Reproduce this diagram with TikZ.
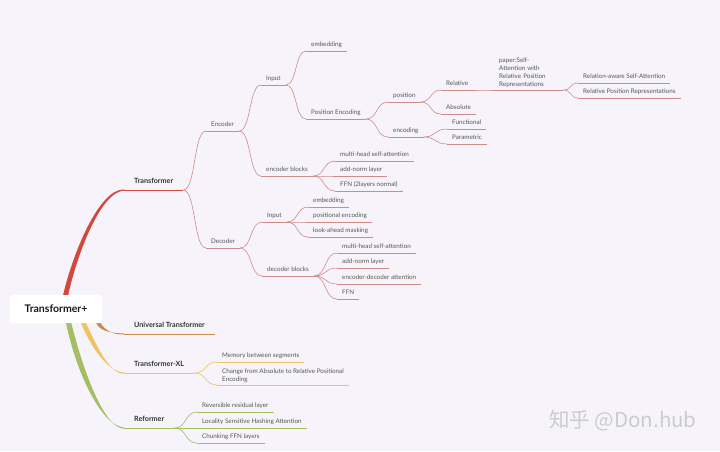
\documentclass[tikz,border=0pt]{standalone}
\usepackage{fontspec}
\setmainfont{Lato}
\newfontfamily\cjk{Noto Sans CJK SC}
\usetikzlibrary{calc,backgrounds}
\definecolor{bg}{HTML}{F6F4FA}
\definecolor{cred}{HTML}{D4473C}
\definecolor{crose}{HTML}{CF8A8A}
\definecolor{cbrown}{HTML}{C98A4E}
\definecolor{cyel}{HTML}{EDC462}
\definecolor{cgreen}{HTML}{A5BE63}
\definecolor{ctext}{HTML}{555555}
\definecolor{cbold}{HTML}{333333}
\tikzset{
  lbl/.style={anchor=south west, inner xsep=5pt, inner ysep=2.4pt, text depth=1.6pt,
    font=\fontsize{6.3}{8}\selectfont, text=ctext},
  mlbl/.style={lbl, text depth={}, align=left},
  mainlbl/.style={anchor=south west, inner xsep=10pt, inner ysep=4.6pt, text depth=1.8pt,
    font=\fontsize{7.2}{9}\selectfont\bfseries, text=cbold},
  rootbox/.style={fill=white, rounded corners=2pt, minimum width=92pt, minimum height=28pt,
    font=\fontsize{10.5}{12}\selectfont\bfseries, text=black!90},
  wmark/.style={font=\cjk\fontsize{20.5}{24}\selectfont, text=black!20},
  conn/.style={to path={let \p1=(\tikztostart), \p2=(\tikztotarget), \n1={0.55*(\x2-\x1)} in
     .. controls ([xshift=\n1]\tikztostart) and ([xshift=-\n1]\tikztotarget) .. (\tikztotarget)}},
  thin/.style={line width=0.6pt},
  mainline/.style={line width=1pt}
}
\begin{document}
\begin{tikzpicture}[x=1pt,y=-1pt]
\begin{pgfonlayer}{background}
\fill[bg] (0,0) rectangle (720,451);
\end{pgfonlayer}
\useasboundingbox (0,0) rectangle (720,451);

% root and main branches
\node[rootbox] (root) at (56,309) {Transformer+};
\node[mainlbl] (tr) at (124,190) {Transformer};
\node[mainlbl] (ut) at (124,334) {Universal Transformer};
\node[mainlbl] (txl) at (124,373) {Transformer-XL};
\node[mainlbl] (ref) at (124,428) {Reformer};

% encoder
\node[lbl] (enc) at (206,131) {Encoder};
\node[lbl] (encin) at (261,85) {Input};
\node[lbl] (encemb) at (306,51) {embedding};
\node[lbl] (posenc) at (306,119) {Position Encoding};
\node[lbl] (pos) at (388,102) {position};
\node[lbl] (rel) at (441,90) {Relative};
\node[mlbl, text width=59pt] (paper) at (494,90) {paper:Self-\\Attention with\\Relative Position\\Representations};
\node[lbl] (raw) at (578,83) {Relation-aware Self-Attention};
\node[lbl] (rpr) at (578,98) {Relative Position Representations};
\node[lbl] (abs) at (441,114) {Absolute};
\node[lbl] (encd) at (388,137) {encoding};
\node[lbl] (func) at (447,129) {Functional};
\node[lbl] (param) at (447,144) {Parametric};
\node[lbl] (encb) at (261,176) {encoder blocks};
\node[lbl] (emhsa) at (335,161) {multi-head self-attention};
\node[lbl] (eanl) at (335,176) {add-norm layer};
\node[lbl] (effn) at (335,191) {FFN (2layers normal)};
% decoder
\node[lbl] (dec) at (206,248) {Decoder};
\node[lbl] (decin) at (262,222) {Input};
\node[lbl] (demb) at (308,207) {embedding};
\node[lbl] (dpe) at (308,222) {positional encoding};
\node[lbl] (dlam) at (308,237) {look-ahead masking};
\node[lbl] (decb) at (262,276) {decoder blocks};
\node[lbl] (dmhsa) at (337,253) {multi-head self-attention};
\node[lbl] (danl) at (337,268) {add-norm layer};
\node[lbl] (deda) at (337,284) {encoder-decoder attention};
\node[lbl] (dffn) at (337,299) {FFN};
% transformer-xl
\node[lbl] (mem) at (217,362) {Memory between segments};
\node[mlbl] (chg) at (217,385) {Change from Absolute to Relative Positional\\Encoding};
% reformer
\node[lbl] (rev) at (197,412) {Reversible residual layer};
\node[lbl] (lsh) at (197,428) {Locality Sensitive Hashing Attention};
\node[lbl] (chunk) at (197,443) {Chunking FFN layers};

% watermark
\node[wmark] (wm) at (623,421) {知乎 @Don.hub};

\begin{pgfonlayer}{background}
\coordinate (b1) at ([xshift=55pt,yshift=-4pt]root.north west);
\coordinate (b2) at ([xshift=87pt,yshift=4pt]root.south west);
\coordinate (b3) at ([xshift=72pt,yshift=4pt]root.south west);
\coordinate (b4) at ([xshift=58pt,yshift=4pt]root.south west);
% thick tapered branches
\fill[cred] ([xshift=-2.6pt]b1) .. controls +(10,-45) and +(-25,-0.6) .. ([yshift=0.6pt]tr.south west)
   -- ([yshift=-0.6pt]tr.south west) .. controls +(-23,0.6) and +(9,-44) .. ([xshift=2.6pt]b1) -- cycle;
\fill[cbrown] ([xshift=-1.8pt]b2) .. controls +(2,12) and +(-14,-0.5) .. ([yshift=0.5pt]ut.south west)
   -- ([yshift=-0.5pt]ut.south west) .. controls +(-12,0.5) and +(4,10) .. ([xshift=1.8pt]b2) -- cycle;
\fill[cyel] ([xshift=-2.2pt]b3) .. controls +(8,22) and +(-18,-0.6) .. ([yshift=0.6pt]txl.south west)
   -- ([yshift=-0.6pt]txl.south west) .. controls +(-16,0.6) and +(10,20) .. ([xshift=2.2pt]b3) -- cycle;
\fill[cgreen] ([xshift=-2.6pt]b4) .. controls +(12,60) and +(-20,-0.6) .. ([yshift=0.6pt]ref.south west)
   -- ([yshift=-0.6pt]ref.south west) .. controls +(-18,0.6) and +(14,58) .. ([xshift=2.6pt]b4) -- cycle;

% underlines of main branches
\draw[mainline, cred] (tr.south west) -- (tr.south east);
\draw[mainline, cbrown] (ut.south west) -- (ut.south east);
\draw[mainline, cyel] (txl.south west) -- (txl.south east);
\draw[mainline, cgreen] (ref.south west) -- (ref.south east);

% underlines of sub nodes
\foreach \n in {enc,encin,encemb,posenc,pos,rel,paper,raw,rpr,abs,encd,func,param,encb,emhsa,eanl,effn,
                dec,decin,demb,dpe,dlam,decb,dmhsa,danl,deda,dffn}
  \draw[thin, crose] (\n.south west) -- (\n.south east);
\foreach \n in {mem,chg} \draw[thin, cyel] (\n.south west) -- (\n.south east);
\foreach \n in {rev,lsh,chunk} \draw[thin, cgreen] (\n.south west) -- (\n.south east);

% connectors
\foreach \a/\b in {tr/enc,tr/dec,enc/encin,enc/encb,encin/encemb,encin/posenc,posenc/pos,posenc/encd,
                   pos/rel,pos/abs,rel/paper,paper/raw,paper/rpr,encd/func,encd/param,
                   encb/emhsa,encb/eanl,encb/effn,dec/decin,dec/decb,decin/demb,decin/dpe,decin/dlam,
                   decb/dmhsa,decb/danl,decb/deda,decb/dffn}
  \draw[thin, crose] (\a.south east) to[conn] (\b.south west);
\foreach \a/\b in {txl/mem,txl/chg}
  \draw[thin, cyel] (\a.south east) to[conn] (\b.south west);
\foreach \a/\b in {ref/rev,ref/lsh,ref/chunk}
  \draw[thin, cgreen] (\a.south east) to[conn] (\b.south west);
\end{pgfonlayer}
\end{tikzpicture}
\end{document}
